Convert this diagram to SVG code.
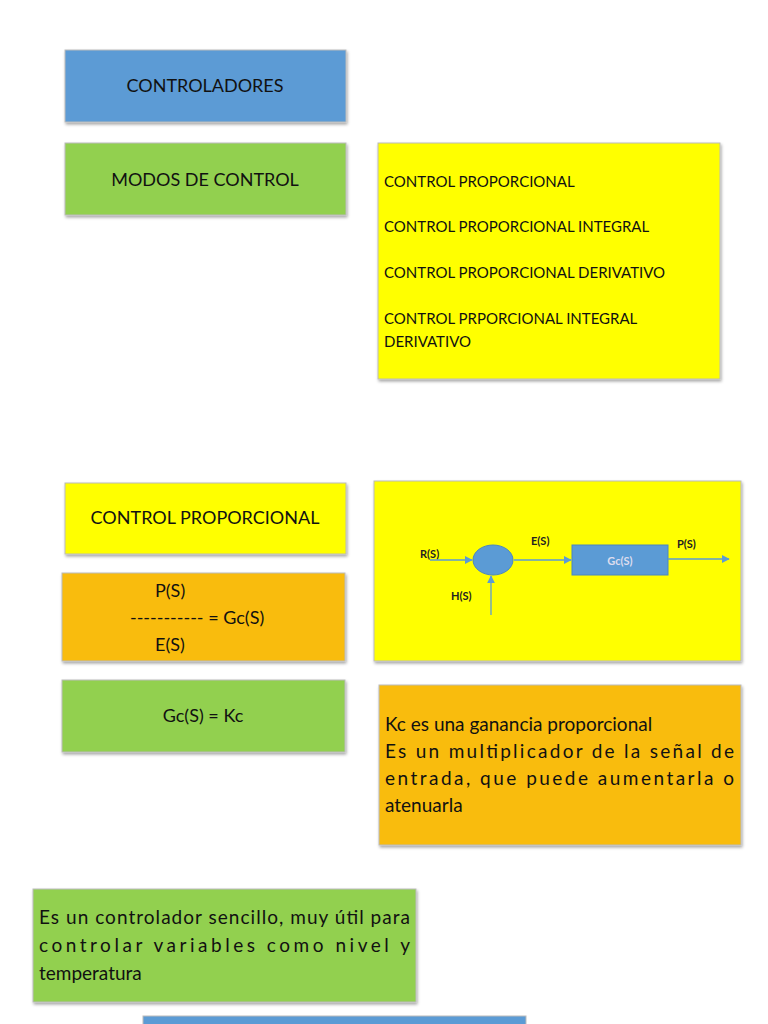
<svg xmlns="http://www.w3.org/2000/svg" width="768" height="1024" viewBox="0 0 768 1024">
<defs>
<style>
text{font-family:Lato,"Liberation Sans",sans-serif;fill:#111}
.bx{stroke:#bbb;stroke-width:1}
.blue{fill:#5b9bd5}.green{fill:#92d050}.yel{fill:#ffff00}.org{fill:#f9bc0c}
.t18{font-size:18px}.t15{font-size:15px}.t19{font-size:19px}
.sm{font-size:11px;font-weight:bold;fill:#222}
.ln{stroke:#5b9bd5;stroke-width:1.3;fill:none;marker-end:url(#ah)}
</style>
<marker id="ah" viewBox="0 0 10 10" refX="9" refY="5" markerWidth="6" markerHeight="6" orient="auto"><path d="M0,0L10,5L0,10z" fill="#5b9bd5"/></marker>
<filter id="sh"><feDropShadow dx="1" dy="2" stdDeviation="1.5" flood-opacity="0.35"/></filter>
</defs>
<rect width="768" height="1024" fill="#fff"/>
<g id="controladores"><rect class="bx blue" x="65" y="50" width="281" height="72" filter="url(#sh)"/><text class="t18" x="205" y="92" text-anchor="middle">CONTROLADORES</text></g>
<g id="modos"><rect class="bx green" x="65" y="143" width="281" height="72" filter="url(#sh)"/><text class="t18" x="205" y="186" text-anchor="middle">MODOS DE CONTROL</text></g>
<g id="lista"><rect class="bx yel" x="378" y="143" width="342" height="236" filter="url(#sh)"/>
<text class="t15" x="384" y="187">CONTROL PROPORCIONAL</text>
<text class="t15" x="384" y="232">CONTROL PROPORCIONAL INTEGRAL</text>
<text class="t15" x="384" y="278">CONTROL PROPORCIONAL DERIVATIVO</text>
<text class="t15" x="384" y="324">CONTROL PRPORCIONAL INTEGRAL</text>
<text class="t15" x="384" y="347">DERIVATIVO</text></g>
<g id="cp"><rect class="bx yel" x="65" y="483" width="281" height="71" filter="url(#sh)"/><text class="t18" x="205" y="524" text-anchor="middle">CONTROL PROPORCIONAL</text></g>
<g id="formula"><rect class="bx org" x="62" y="573" width="283" height="88" filter="url(#sh)"/>
<text class="t18" x="155" y="597">P(S)</text>
<text class="t18" x="130" y="624">----------- = Gc(S)</text>
<text class="t18" x="155" y="651">E(S)</text></g>
<g id="diagrama"><rect class="bx yel" x="374" y="481" width="367" height="180" filter="url(#sh)"/>
<ellipse cx="493" cy="560" rx="20" ry="15" fill="#5b9bd5" stroke="#4a86c0"/>
<rect x="572" y="545" width="96" height="30" fill="#5b9bd5" stroke="#4a86c0"/>
<text x="620" y="565" text-anchor="middle" style="font-size:11px;font-weight:bold;fill:#dde"> Gc(S)</text>
<text class="sm" x="420" y="558">R(S)</text>
<text class="sm" x="531" y="545">E(S)</text>
<text class="sm" x="677" y="548">P(S)</text>
<text class="sm" x="451" y="600">H(S)</text></g>
<g id="connectors">
<path class="ln" d="M430,560H472"/>
<path class="ln" d="M514,560H571"/>
<path class="ln" d="M668,559H729"/>
<path class="ln" d="M491,615V576"/>
</g>
<g id="gckc"><rect class="bx green" x="62" y="680" width="283" height="72" filter="url(#sh)"/><text class="t18" x="203" y="722" text-anchor="middle">Gc(S) = Kc</text></g>
<g id="kc"><rect class="bx org" x="379" y="685" width="362" height="160" filter="url(#sh)"/>
<text class="t19" x="385" y="731">Kc es una ganancia proporcional</text>
<text class="t19" x="385" y="758" textLength="349" lengthAdjust="spacing">Es un multiplicador de la señal de</text>
<text class="t19" x="385" y="785" textLength="349" lengthAdjust="spacing">entrada, que puede aumentarla o</text>
<text class="t19" x="385" y="812">atenuarla</text></g>
<g id="sencillo"><rect class="bx green" x="33" y="889" width="383" height="113" filter="url(#sh)"/>
<text class="t19" x="39" y="924" textLength="371" lengthAdjust="spacing">Es un controlador sencillo, muy útil para</text>
<text class="t19" x="39" y="952" textLength="371" lengthAdjust="spacing">controlar   variables   como   nivel   y</text>
<text class="t19" x="39" y="980">temperatura</text></g>
<g id="siguiente"><rect class="bx blue" x="143" y="1016" width="383" height="20" fill="#5b9bd5"/></g>
</svg>
